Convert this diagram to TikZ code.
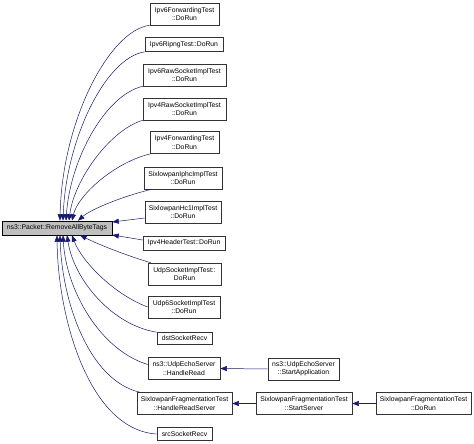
\documentclass[tikz,border=0pt]{standalone}
\usepackage{fontspec}
\setmainfont{Liberation Sans}
\usetikzlibrary{arrows.meta}
\definecolor{edgeblue}{RGB}{25,25,112}
\tikzset{
  box/.style={draw=black!80, fill=white, inner sep=0pt, align=center,
    font=\fontsize{6.8}{8.2}\selectfont, line width=0.6pt},
  mainbox/.style={box, fill=black!25, draw=black},
  edge/.style={draw=edgeblue, line width=0.5pt, -{Triangle[length=6.5pt,width=5pt]}},
}
\begin{document}
\begin{tikzpicture}[x=1pt,y=-1pt]
\useasboundingbox (0,0) rectangle (474,444);
% main
\node[mainbox, minimum width=110pt, minimum height=14pt] (main) at (57,228) {ns3::Packet::RemoveAllByteTags};
% callers
\node[box, minimum width=69pt, minimum height=22pt] (n1) at (184.5,14) {Ipv6ForwardingTest\\::DoRun};
\node[box, minimum width=78pt, minimum height=14pt] (n2) at (184,44.5) {Ipv6RipngTest::DoRun};
\node[box, minimum width=83pt, minimum height=22pt] (n3) at (184.5,75) {Ipv6RawSocketImplTest\\::DoRun};
\node[box, minimum width=83pt, minimum height=22pt] (n4) at (184.5,109) {Ipv4RawSocketImplTest\\::DoRun};
\node[box, minimum width=69pt, minimum height=22pt] (n5) at (184.5,142.5) {Ipv4ForwardingTest\\::DoRun};
\node[box, minimum width=78pt, minimum height=22pt] (n6) at (183,178) {SixlowpanIphcImplTest\\::DoRun};
\node[box, minimum width=76pt, minimum height=22pt] (n7) at (183,212) {SixlowpanHc1ImplTest\\::DoRun};
\node[box, minimum width=82pt, minimum height=14pt] (n8) at (184,243) {Ipv4HeaderTest::DoRun};
\node[box, minimum width=73pt, minimum height=22pt] (n9) at (184.5,274) {UdpSocketImplTest::\\DoRun};
\node[box, minimum width=72pt, minimum height=22pt] (n10) at (184,307) {Udp6SocketImplTest\\::DoRun};
\node[box, minimum width=55pt, minimum height=12pt] (n11) at (184.5,338.5) {dstSocketRecv};
\node[box, minimum width=72pt, minimum height=22pt] (n12) at (184,368.5) {ns3::UdpEchoServer\\::HandleRead};
\node[box, minimum width=95pt, minimum height=22pt] (n13) at (184.5,403.5) {SixlowpanFragmentationTest\\::HandleReadServer};
\node[box, minimum width=55pt, minimum height=13pt] (n14) at (184.5,434) {srcSocketRecv};
\node[box, minimum width=71pt, minimum height=22pt] (n15) at (303.5,369) {ns3::UdpEchoServer\\::StartApplication};
\node[box, minimum width=96pt, minimum height=22pt] (n16) at (304,403.5) {SixlowpanFragmentationTest\\::StartServer};
\node[box, minimum width=95pt, minimum height=22pt] (n17) at (423.5,403.5) {SixlowpanFragmentationTest\\::DoRun};
% edges to main (top)
\draw[edge] (n1.south west) .. controls (110,30) and (62,120) .. ([xshift=3pt]main.north);
\draw[edge] (n2.south west) .. controls (105,58) and (66,140) .. ([xshift=6pt]main.north);
\draw[edge] (n3.south west) .. controls (105,95) and (70,160) .. ([xshift=9pt]main.north);
\draw[edge] (n4.south west) .. controls (110,130) and (74,180) .. ([xshift=12pt]main.north);
\draw[edge] ([xshift=1pt]n5.south west) .. controls (115,162) and (78,195) .. ([xshift=15pt]main.north);
\draw[edge] ([xshift=8pt]n6.south west) .. controls (120,197) and (90,210) .. ([xshift=21pt]main.north);
% right side
\draw[edge] ([yshift=-6pt]n7.west) -- ([yshift=6pt]main.east);
\draw[edge] ([yshift=3pt]n8.west) -- ([yshift=-7pt]main.east);
% bottom
\draw[edge] ([xshift=3pt]n9.north west) .. controls (125,255) and (100,245) .. ([xshift=23pt]main.south);
\draw[edge] (n10.west) .. controls (115,295) and (82,262) .. ([xshift=15pt]main.south);
\draw[edge] (n11.north west) .. controls (112,325) and (74,280) .. ([xshift=10pt]main.south);
\draw[edge] ([yshift=4pt]n12.west) .. controls (100,350) and (66,290) .. ([xshift=6pt]main.south);
\draw[edge] ([xshift=3pt]n13.north west) .. controls (88,380) and (62,300) .. ([xshift=3pt]main.south);
\draw[edge] (n14.west) .. controls (90,430) and (58,320) .. ([xshift=0pt]main.south);
% chain
\draw[edge] (n15.west) -- (n12.east);
\draw[edge] (n16.west) -- (n13.east);
\draw[edge] (n17.west) -- (n16.east);
\end{tikzpicture}
\end{document}
